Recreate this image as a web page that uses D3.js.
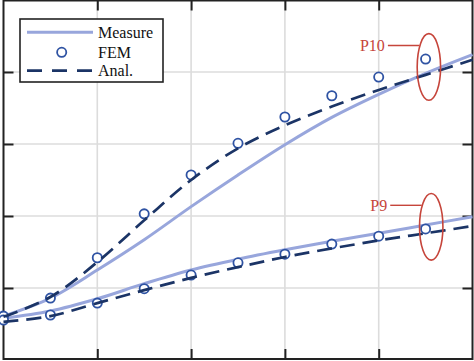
<!DOCTYPE html>
<html>
<head>
<meta charset="utf-8">
<script src="https://cdn.jsdelivr.net/npm/d3@7"></script>
<style>
html,body{margin:0;padding:0;background:#fff;}
svg{display:block;}
</style>
</head>
<body>
<svg id="chart" width="474" height="361"></svg>
<script>
// ---- data ----
const curveX = [0,1,2,3,4,5,6,7,8,9,10];
const femX = [0,1,2,3,4,5,6,7,8,9];
const measureP10 = [0.61,0.86,1.25,1.67,2.13,2.57,2.99,3.37,3.69,3.98,4.24];
const analP10    = [0.60,0.875,1.36,1.94,2.50,2.94,3.26,3.52,3.75,3.96,4.17];
const femP10     = [0.61,0.86,1.42,2.03,2.57,3.01,3.375,3.67,3.93,4.18];
const measureP9  = [0.58,0.68,0.85,1.06,1.25,1.40,1.53,1.65,1.76,1.875,1.99];
const analP9     = [0.53,0.61,0.79,0.97,1.14,1.29,1.43,1.55,1.66,1.76,1.86];
const femP9      = [0.555,0.625,0.79,0.99,1.18,1.35,1.47,1.61,1.72,1.82];
const xTicks = [0,2,4,6,8,10];
const yTicks = [0,1,2,3,4,5];
const legendLabels = ["Measure","FEM","Anal."];
const annotations = [
  {label:"P10", x:9.07, y:4.07},
  {label:"P9",  x:9.12, y:1.85}
];

// ---- styles ----
const cMeasure = "#98a6dc", cAnal = "#1b3466", cFem = "#2f53a3", cRed = "#c6453b";

const svg = d3.select("#chart");
const x = d3.scaleLinear().domain([0,10]).range([3.5,472.5]);
const y = d3.scaleLinear().domain([0,5]).range([360,0]);

// grid
svg.append("g").selectAll("line.gx").data(xTicks.slice(1,-1)).join("line")
  .attr("x1",d=>x(d)).attr("x2",d=>x(d)).attr("y1",0).attr("y2",360)
  .attr("stroke","#dcdcdc").attr("stroke-width",1.6);
svg.append("g").selectAll("line.gy").data(yTicks.slice(1,-1)).join("line")
  .attr("y1",d=>y(d)).attr("y2",d=>y(d)).attr("x1",x(0)).attr("x2",x(10))
  .attr("stroke","#dcdcdc").attr("stroke-width",1.6);

// axes (ticks inward)
const axCol = "#222";
const tl = 10;
const axL = d3.axisRight(y).tickValues(yTicks.slice(1,-1)).tickSize(tl).tickFormat("");
const axR = d3.axisLeft(y).tickValues(yTicks.slice(1,-1)).tickSize(tl).tickFormat("");
const axT = d3.axisBottom(x).tickValues(xTicks.slice(1,-1)).tickSize(tl).tickFormat("");
const axB = d3.axisTop(x).tickValues(xTicks.slice(1,-1)).tickSize(tl).tickFormat("");
function styleAx(g){ g.select(".domain").remove(); g.selectAll("line").attr("stroke",axCol).attr("stroke-width",2); }
svg.append("g").attr("transform",`translate(${x(0)},0)`).call(axL).call(styleAx);
svg.append("g").attr("transform",`translate(${x(10)},0)`).call(axR).call(styleAx);
svg.append("g").attr("transform",`translate(0,0.5)`).call(axT).call(styleAx);
svg.append("g").attr("transform",`translate(0,359)`).call(axB).call(styleAx);
svg.append("rect").attr("x",x(0)).attr("y",0.5).attr("width",x(10)-x(0)).attr("height",358.5)
  .attr("fill","none").attr("stroke",axCol).attr("stroke-width",2);

const line = d3.line().x((d,i)=>x(curveX[i])).y(d=>y(d)).curve(d3.curveCatmullRom.alpha(0.5));

// Measure
[measureP10, measureP9].forEach(s=>{
  svg.append("path").attr("d",line(s)).attr("fill","none")
    .attr("stroke",cMeasure).attr("stroke-width",3);
});
// FEM
[femP10, femP9].forEach(s=>{
  svg.append("g").selectAll("circle").data(s).join("circle")
    .attr("cx",(d,i)=>x(femX[i])).attr("cy",d=>y(d)).attr("r",4.6)
    .attr("fill","#fff").attr("stroke",cFem).attr("stroke-width",1.8);
});
// Anal.
[analP10, analP9].forEach(s=>{
  svg.append("path").attr("d",line(s)).attr("fill","none")
    .attr("stroke",cAnal).attr("stroke-width",2.7).attr("stroke-dasharray","15,8");
});

// annotations
annotations.forEach(a=>{
  const cx = x(a.x), cy = y(a.y);
  svg.append("ellipse").attr("cx",cx).attr("cy",cy).attr("rx",11.7).attr("ry",33.3)
    .attr("fill","none").attr("stroke",cRed).attr("stroke-width",1.6);
  const ly = cy - 21.5;
  svg.append("line").attr("x1",cx-41).attr("x2",cx-9.5).attr("y1",ly).attr("y2",ly)
    .attr("stroke",cRed).attr("stroke-width",1.4);
  svg.append("text").attr("x",cx-44).attr("y",ly+5.5).attr("text-anchor","end")
    .attr("font-family","Liberation Serif, Times New Roman, serif").attr("font-size",16)
    .attr("fill",cRed).text(a.label);
});

// legend
const lg = svg.append("g");
lg.append("rect").attr("x",20).attr("y",19).attr("width",143).attr("height",63)
  .attr("fill","#fff").attr("stroke",axCol).attr("stroke-width",1.6);
lg.append("line").attr("x1",27).attr("x2",93).attr("y1",32.3).attr("y2",32.3)
  .attr("stroke",cMeasure).attr("stroke-width",3);
lg.append("circle").attr("cx",61.7).attr("cy",52.3).attr("r",4.6)
  .attr("fill","#fff").attr("stroke",cFem).attr("stroke-width",1.8);
lg.append("line").attr("x1",27).attr("x2",93).attr("y1",70.7).attr("y2",70.7)
  .attr("stroke",cAnal).attr("stroke-width",2.7).attr("stroke-dasharray","15,10");
const ty = [37.5,57.5,75.7];
lg.selectAll("text").data(legendLabels).join("text")
  .attr("x",98).attr("y",(d,i)=>ty[i])
  .attr("font-family","Liberation Serif, Times New Roman, serif").attr("font-size",16)
  .attr("fill","#111").text(d=>d);
</script>
</body>
</html>
